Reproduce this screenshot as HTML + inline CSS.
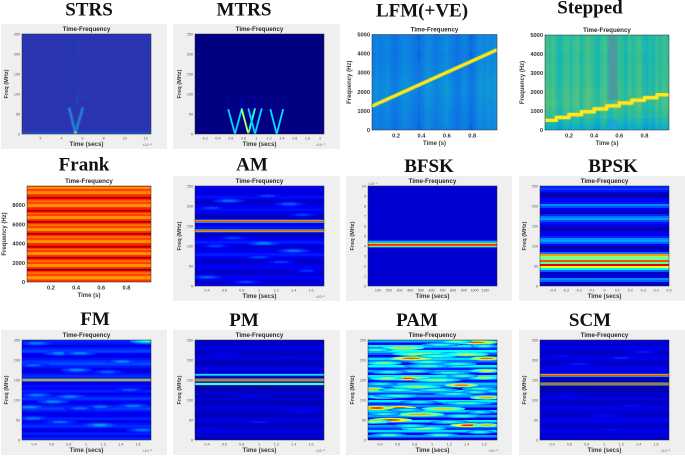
<!DOCTYPE html>
<html lang="en">
<head>
<meta charset="utf-8">
<title>Radar signal time-frequency images</title>
<style>
html,body{margin:0;padding:0;background:#fff;}
#chart{display:block;width:685px;height:456px;filter:blur(0.35px);}
text{font-family:"Liberation Sans",sans-serif;}
.big{font-family:"Liberation Serif",serif;font-weight:bold;font-size:19px;fill:#111;text-anchor:middle;}
</style>
</head>
<body>
<svg id="chart" xmlns="http://www.w3.org/2000/svg" width="685" height="456" viewBox="0 0 685 456">
<defs>
<filter id="b03" x="-5%" y="-5%" width="110%" height="110%"><feGaussianBlur stdDeviation="0.35"/></filter>
<filter id="b06" x="-5%" y="-5%" width="110%" height="110%"><feGaussianBlur stdDeviation="0.6"/></filter>
</defs>
</svg>
<script>
// ---------- shared ticks ----------
const mhzTicks = [0, 50, 100, 150, 200, 250];
const hzTicks = [0, 1000, 2000, 3000, 4000, 5000];
const frankYTicks = [0, 2000, 4000, 6000, 8000];
const unitTicks = [0.2, 0.4, 0.6, 0.8];
const amTimeTicks = [0.4, 0.6, 0.8, 1, 1.2, 1.4, 1.6];

// ---------- STRS ----------
const strsTimeTicks = [2, 4, 6, 8, 10, 12];
const strsRows = [6,7,5,7,6,7,5,6,7,6,7,5,7,6,5,7,6,7,6,5,7,7,6,5,7,6,7,5,6,7,7,6,7,5,6,7,6,7,6,9];
const strsStreakT = [5.5,5.6,5.4,5.7,5.5,5.6,5.4,5.6,5.5];
const strsStreakF = [235,215,195,175,155,135,115,95,80];
const strsStreakL = [10,11,9,10,9,10,9,11,13];
const strsVTimes = [4.72, 5.32, 6.02];
const strsVFreqs = [66, 2, 66];
const strsVLevels = [32];

// ---------- MTRS ----------
const mtrsTimeTicks = [0.2,0.4,0.6,0.8,1,1.2,1.4,1.6,1.8,2];
const mtrsRows = [0];
const mtrsVCenters = [0.666, 0.875, 0.98, 1.32];
const mtrsVHalfWidths = [0.105, 0.105, 0.105, 0.1];
const mtrsVTops = [62, 64, 64, 62];
const mtrsVLevels = [28, 36, 28, 29];

// ---------- LFM ----------
const lfmRows = [26,27,27,26,27,28,29,30,31,31,30,29,28,27,27,26];
const lfmCols = [0,2,-1,1,3,-2,-5,-3,1,3,2,-1,-4,-8,-3,2,4,1,-2,0,3,5,2,-2,-6,-3,2,-1,-8,-4,3,4,2,5,3,6];
const lfmTimes = [0.01, 0.995];
const lfmFreqs = [1250, 4200];

// ---------- Stepped ----------
const steppedRows = [55,56,56,55,55,56,56,56,57,58,58,59,57,55,50,44];
const steppedCols = [4,2,5,-3,-6,2,4,-2,3,5,-4,2,6,3,-2,-6,3,5,-5,-3,4,2,0,-6,3,-2,2,5,-4,-7,-2,-5,3,-3,4,2];
const steppedStarts = [0.01,0.1,0.2,0.3,0.4,0.5,0.6,0.7,0.8,0.9];
const steppedFreqs = [500,660,810,960,1110,1270,1420,1570,1700,1860];
const steppedBandTimes = [0.515, 0.585];
const steppedBandFreqs = [1600, 5000];

// ---------- Frank ----------
const frankTimeTicks = [0.2, 0.4, 0.6, 0.8];
const frankRows = [
 50,58,58,46,48,56,58,58,47,44,42,24,
 30,44,50,54,47,48,58,60,58,46,42,40,
 25,32,44,54,48,47,58,60,58,46,43,24,
 30,44,52,54,48,47,58,60,58,46,42,23,
 30,44,52,54,47,48,58,60,58,45,42,40,
 21,32,46,54,47,46,58,60,58,45,42,22,
 32,44,52,54,48,47,58,60,58,45,42,14,
 30,44,52,54,48,47,58,60,60,52,46,44];

// ---------- AM ----------
const amRows = [12,10,7,11,14,9,6,9,12,14,10,8,5,9,12,10,14,10,7,6,9,12,15,11,7,10,13,15,11,8,6,10,13,9,6,9,13,9,7,11];
const amStreakT = [0.65,1.35,0.45,1.1,1.5,1.05,1.4,0.7,0.5,1.25,1.0,0.4,1.55,0.85];
const amStreakF = [213,205,195,225,178,107,88,120,100,60,72,22,38,10];
const amStreakL = [24,23,20,20,19,27,25,20,20,19,20,23,18,20];
const amLineF = [162, 138];
const amLineL = [80, 78];

// ---------- BFSK ----------
const bfskTimeTicks = [100,200,300,400,500,600,700,800,900,1000,1100];
const bfskYTicks = [0,1,2,3,4,5,6,7,8,9,10];
const bfskRows = [8,7,9,8,7,9,8,7,8,9,7,8,9,8,7,9,8,7,8,9,8,7,9,8,7,8,9,7,8,9,8,7,9,8,7,8,9,7,8,9];
const bfskLineF = [4.45, 4.12];
const bfskLineL = [28, 78];

// ---------- BPSK ----------
const bpskTimeTicks = [-0.4,-0.3,-0.2,-0.1,0,0.1,0.2,0.3,0.4,0.5];
const bpskRows = [16,18,14,7,5,6,12,13,14,26,20,12,8,6,16,24,28,20,14,10,8,4,8,12,10,16,26,28,22,12,5,6,10,24,72,50,48,80,46,90,62,36,22,8,6,10,26,22,8,5];

// ---------- FM ----------
const fmRows = [16,14,10,15,19,13,9,14,17,20,15,11,8,14,17,14,12,10,14,12,16,11,14,18,13,9,15,19,14,10,12,16,10,14,17,12,9,15,11,16];
const fmStreakT = [0.43,0.7,0.93,1.42,0.39,0.89,0.43,0.81,0.35,0.62,1.16,1.54,0.93,1.16,0.39,1.65,1.7,1.25,0.7,1.5];
const fmStreakF = [242,217,217,196,187,175,112,108,82,96,83,85,79,37,54,25,247,170,45,125];
const fmStreakL = [26,28,27,27,24,27,26,27,28,27,25,26,24,30,25,25,42,23,24,22];
const fmLineF = [150];
const fmLineL = [74];

// ---------- PM ----------
const pmRows = [7,6,8,10,7,5,8,10,6,5,8,11,7,5,4,5,5,6,5,4,6,8,5,9,6,5,8,10,6,7,5,9,10,6,5,8,10,7,9,5];
const pmStreakT = [1.0,1.3,0.6,1.5,0.45,0.9];
const pmStreakF = [45,205,215,70,30,110];
const pmStreakL = [15,13,13,13,13,12];
const pmLineF = [163, 150, 140];
const pmLineL = [36, 84, 50];

// ---------- PAM ----------
const pamRows = [30,13,36,16,38,22,12,34,24,13,38,16,30,12,36,22,14,32,26,12,36,18,28,12,36,16,26,10,34,16,28,10,36,14,28,18,34,12,28,10];
const pamStreakT = [1.49,1.28,0.67,0.86,0.76,0.44,1.05,1.4,1.63,1.63,0.69,0.48,1.05,1.6,1.34,0.82,0.32,0.44,1.63,0.36,0.63,1.13,0.86,0.52,0.32,1.43,1.63,0.9,0.5,1.1,1.4,0.6,0.95,1.35,1.2,0.8,0.4,1.55,0.35,1.1,1.6,0.95,1.3,0.5,1.35,0.6,1.05,1.5,0.85,1.25,0.7,1.55,0.45,1.2,0.75,1.55];
const pamStreakF = [244,246,230,215,204,192,210,214,204,173,154,154,150,156,137,133,127,108,106,80,80,78,64,50,46,37,37,29,12,12,92,110,185,60,168,172,140,128,225,238,235,195,190,170,160,125,125,120,95,115,75,70,65,45,35,20];
const pamStreakL = [80,52,68,60,80,54,50,62,78,62,82,58,54,58,78,58,70,56,72,90,88,68,72,88,60,88,70,56,46,46,46,46,46,46,44,42,42,44,48,44,46,48,46,44,46,48,46,44,42,44,42,42,44,44,44,44];
const pamStreakSpan = [0.17,0.12,0.15,0.2,0.15,0.13,0.15,0.16,0.12,0.12,0.18,0.12,0.18,0.12,0.12,0.18,0.1,0.13,0.12,0.12,0.12,0.16,0.18,0.16,0.13,0.14,0.1,0.16,0.13,0.13,0.18,0.18,0.18,0.15,0.15,0.15,0.13,0.13,0.12,0.14,0.1,0.14,0.14,0.14,0.12,0.14,0.16,0.1,0.14,0.14,0.14,0.1,0.12,0.14,0.14,0.1];

// ---------- SCM ----------
const scmRows = [8,7,9,11,7,6,9,11,7,6,9,12,9,7,5,7,5,6,5,4,6,8,6,10,7,6,9,11,7,8,6,10,12,7,6,9,11,8,10,6];
const scmStreakT = [0.7,1.2,1.45,0.5,1.0,1.3,0.55,1.1];
const scmStreakF = [190,205,220,210,60,85,110,25];
const scmStreakL = [16,17,15,14,14,14,13,14];
const scmLineF = [162, 140];
const scmLineL = [80, 86];

// ---------- panel layout ----------
const axisSmall = {tick:3.7, label:6.2, xl:'Time (secs)', yl:'Freq (MHz)'};
const panels = [
 {id:'strs',title:'STRS',tx:89,ty:15.5,box:[1,24,167,149],plot:[22,34,151,134],xd:[0.25,12.5],yd:[0,250],xt:strsTimeTicks,yt:mhzTicks,exp:'×10⁻⁵',cmap:'strs',rows:strsRows,blur:'b06',
  streak:{t:strsStreakT,f:strsStreakF,l:strsStreakL,dt:0.1,ry:2.5}},
 {id:'mtrs',title:'MTRS',tx:244,ty:15.5,box:[173,24,340,149],plot:[195,34,324,134],xd:[0.04,2.06],yd:[0,250],xt:mtrsTimeTicks,yt:mhzTicks,exp:'×10⁻³',cmap:'jet',rows:mtrsRows,blur:'b06'},
 {id:'lfm',title:'LFM(+VE)',tx:422,ty:16.5,plot:[372,34.5,497,130],xd:[0.01,0.995],yd:[0,5000],xt:unitTicks,yt:hzTicks,big:true,cmap:'parula',rows:lfmRows,cols:lfmCols,blur:'b06'},
 {id:'stepped',title:'Stepped',tx:590,ty:13.5,plot:[545,35,669,130],xd:[0.01,0.995],yd:[0,5000],xt:unitTicks,yt:hzTicks,big:true,cmap:'parula',rows:steppedRows,cols:steppedCols,blur:'b06'},
 {id:'frank',title:'Frank',tx:84,ty:170.5,plot:[27,186,151,282],xd:[0.01,0.995],yd:[0,10000],xt:frankTimeTicks,yt:frankYTicks,big:true,cmap:'hot',rows:frankRows},
 {id:'am',title:'AM',tx:252,ty:170.5,box:[173,176,340,301],plot:[195,186,324,286],xd:[0.26,1.75],yd:[0,250],xt:amTimeTicks,yt:mhzTicks,exp:'×10⁻⁸',cmap:'jet',rows:amRows,blur:'b06',
  streak:{t:amStreakT,f:amStreakF,l:amStreakL,dt:0.12,ry:1.1},line:{f:amLineF,l:amLineL}},
 {id:'bfsk',title:'BFSK',tx:429,ty:172,box:[346,176,512,301],plot:[368,186,497,286],xd:[7,1209],yd:[0,10],xt:bfskTimeTicks,yt:bfskYTicks,expTop:'×10⁻⁴',cmap:'jet',rows:bfskRows,blur:'b06',line:{f:bfskLineF,l:bfskLineL,w:[1,1.8]}},
 {id:'bpsk',title:'BPSK',tx:613,ty:172,box:[519,176,685,301],plot:[540,186,669,286],xd:[-0.5,0.5],yd:[0,250],xt:bpskTimeTicks,yt:mhzTicks,cmap:'jet',rows:bpskRows},
 {id:'fm',title:'FM',tx:95,ty:325,box:[1,330,167,455],plot:[22,340,151,440],xd:[0.26,1.75],yd:[0,250],xt:amTimeTicks,yt:mhzTicks,exp:'×10⁻⁸',cmap:'jet',rows:fmRows,blur:'b06',
  streak:{t:fmStreakT,f:fmStreakF,l:fmStreakL,dt:0.12,ry:1.2},line:{f:fmLineF,l:fmLineL}},
 {id:'pm',title:'PM',tx:244,ty:326,box:[173,330,340,455],plot:[195,340,324,440],xd:[0.26,1.75],yd:[0,250],xt:amTimeTicks,yt:mhzTicks,exp:'×10⁻⁸',cmap:'jet',rows:pmRows,blur:'b06',
  streak:{t:pmStreakT,f:pmStreakF,l:pmStreakL,dt:0.14,ry:1.1},line:{f:pmLineF,l:pmLineL}},
 {id:'pam',title:'PAM',tx:417,ty:326,box:[346,330,512,455],plot:[368,340,497,440],xd:[0.26,1.75],yd:[0,250],xt:amTimeTicks,yt:mhzTicks,exp:'×10⁻⁸',cmap:'jet',rows:pamRows,blur:'b03',
  streak:{t:pamStreakT,f:pamStreakF,l:pamStreakL,span:pamStreakSpan,ry:1.05}},
 {id:'scm',title:'SCM',tx:590,ty:326,box:[519,330,685,455],plot:[540,340,669,440],xd:[0.26,1.75],yd:[0,250],xt:amTimeTicks,yt:mhzTicks,exp:'×10⁻⁸',cmap:'jet',rows:scmRows,blur:'b06',
  streak:{t:scmStreakT,f:scmStreakF,l:scmStreakL,dt:0.14,ry:1.1},line:{f:scmLineF,l:scmLineL}}
];

// ---------- colour maps ----------
const parulaStops = [[53,42,135],[3,99,225],[15,130,225],[8,172,205],[45,190,150],[130,200,100],[225,185,82],[249,251,14]];
const strsStops = [[44,40,165],[34,80,205],[40,170,215],[90,225,130],[230,230,60],[230,60,30]];
function ramp(stops,v){
  v=Math.max(0,Math.min(1,v))*(stops.length-1);
  const i=Math.min(stops.length-2,Math.floor(v)),k=v-i;
  return 'rgb('+[0,1,2].map(c=>Math.round(stops[i][c]+(stops[i+1][c]-stops[i][c])*k)).join(',')+')';
}
function clamp(v){return Math.max(0,Math.min(1,v));}
function jet(v){
  const r=clamp(1.5-Math.abs(4*v-3)),g=clamp(1.5-Math.abs(4*v-2)),b=clamp(1.5-Math.abs(4*v-1));
  return 'rgb('+Math.round(r*255)+','+Math.round(g*255)+','+Math.round(b*255)+')';
}
function hot(v){
  const r=clamp(v/0.375),g=clamp((v-0.375)/0.375),b=clamp((v-0.75)/0.25);
  return 'rgb('+Math.round(r*255)+','+Math.round(g*255)+','+Math.round(b*255)+')';
}
function colour(p,level){
  const v=level/100;
  if(p.cmap==='jet')return jet(v);
  if(p.cmap==='hot')return hot(v);
  if(p.cmap==='parula')return ramp(parulaStops,v);
  return ramp(strsStops,v);
}

// ---------- drawing helpers ----------
const NS='http://www.w3.org/2000/svg';
const root=document.getElementById('chart');
function make(tag,parent,attrs){
  const e=document.createElementNS(NS,tag);
  for(const k in attrs)e.setAttribute(k,attrs[k]);
  parent.appendChild(e);
  return e;
}
function drawPolyline(p,parent,x,y,ts,fs,stroke,width,opacity){
  const pts=ts.map((t,i)=>x(t).toFixed(2)+','+y(fs[i]).toFixed(2)).join(' ');
  const e=make('polyline',parent,{points:pts,fill:'none',stroke:stroke,'stroke-width':width,'stroke-opacity':opacity,'stroke-linejoin':'round'});
  
  
  return e;
}

panels.forEach(p=>{
  const [px0,py0,px1,py1]=p.plot;
  const x=t=>px0+(t-p.xd[0])/(p.xd[1]-p.xd[0])*(px1-px0);
  const y=f=>py1-(f-p.yd[0])/(p.yd[1]-p.yd[0])*(py1-py0);
  const g=make('g',root,{});
  
  

  const heading=make('text',g,{x:p.tx,y:p.ty,class:'big'});
  
  
  heading.textContent=p.title;

  if(p.box){
    const bg=make('rect',g,{x:p.box[0],y:p.box[1],width:p.box[2]-p.box[0],height:p.box[3]-p.box[1],fill:'#efefef'});
    
    
  }

  const clipId='clip-'+p.id;
  const cp=make('clipPath',g,{id:clipId});
  make('rect',cp,{x:px0,y:py0,width:px1-px0,height:py1-py0});
  const clipped=make('g',g,{'clip-path':'url(#'+clipId+')'});
  
  
  const heat=make('g',clipped,p.blur?{filter:'url(#'+p.blur+')'}:{});

  // heat map cells
  const rows=p.rows, cols=p.cols||[0];
  const rh=(py1-py0)/rows.length, cw=(px1-px0)/cols.length;
  rows.forEach((rv,r)=>{
    cols.forEach((cv,c)=>{
      const top=py0+r*rh, left=px0+c*cw;
      const cell=make('rect',heat,{
        x:c===0?left-5:left,
        y:r===0?top-5:top,
        width:cw+(c===0?5:0)+(c===cols.length-1?5:0)+0.3,
        height:rh+(r===0?5:0)+(r===rows.length-1?5:0)+0.3,
        fill:colour(p,rv+cv)});
      
      
    });
  });

  // streak blobs
  if(p.streak){
    const s=p.streak;
    s.t.forEach((t,i)=>{
      const span=s.span?s.span[i]:s.dt;
      const rx=Math.abs(x(t+span)-x(t)), ry=s.ry;
      [[1.6,2,0.5],[1.2,1.35,0.72],[0.7,0.7,1]].forEach(layer=>{
        const blob=make('ellipse',heat,{cx:x(t),cy:y(s.f[i]),rx:rx*layer[0],ry:ry*layer[1],fill:colour(p,Math.max(s.l[i]*layer[2],p.cmap==='strs'?s.l[i]*0.9:s.l[i]*0.6))});
        
        
      });
    });
  }

  // horizontal carrier lines
  if(p.line){
    const peaks=make('g',clipped,{});
    p.line.f.forEach((f,i)=>{
      const lev=p.line.l[i];
      const w=p.line.w?p.line.w[i]:1;
      [[3*w,lev*0.4],[2*w,lev*0.74],[1.1*w,lev*1.08]].forEach(layer=>{
        const r=make('rect',peaks,{x:px0-3,y:y(f)-layer[0]/2,width:px1-px0+6,height:layer[0],fill:colour(p,layer[1])});
        
        
      });
    });
  }

  // panel specific traces
  if(p.id==='strs'){
    const soft=make('g',clipped,{filter:'url(#b06)'});
    drawPolyline(p,soft,x,y,[0.2,12.6],[2,2],colour(p,24),1.3,1);
    drawPolyline(p,soft,x,y,strsVTimes,strsVFreqs,colour(p,strsVLevels[0]),2.8,0.9);
    drawPolyline(p,soft,x,y,[strsVTimes[1],strsVTimes[1]],[0,6],colour(p,75),2,1);
  }
  if(p.id==='mtrs'){
    const soft=make('g',clipped,{filter:'url(#b03)'});
    mtrsVCenters.forEach((c,i)=>{
      const ts=[c-mtrsVHalfWidths[i],c,c+mtrsVHalfWidths[i]];
      drawPolyline(p,soft,x,y,[c-mtrsVHalfWidths[i]*0.98,c-mtrsVHalfWidths[i]*0.98],[mtrsVTops[i],mtrsVTops[i]+30],colour(p,8),1.2,0.6);
      drawPolyline(p,soft,x,y,[c+mtrsVHalfWidths[i]*0.98,c+mtrsVHalfWidths[i]*0.98],[mtrsVTops[i],mtrsVTops[i]+30],colour(p,8),1.2,0.6);
      drawPolyline(p,soft,x,y,ts,[mtrsVTops[i],0,mtrsVTops[i]],colour(p,mtrsVLevels[i]),2,1);
      drawPolyline(p,soft,x,y,ts,[mtrsVTops[i],0,mtrsVTops[i]],colour(p,mtrsVLevels[i]+8),0.9,1);
    });
    drawPolyline(p,soft,x,y,[mtrsVCenters[1]-0.02,mtrsVCenters[1]+0.02],[3,3],colour(p,90),1.6,1);
    drawPolyline(p,soft,x,y,[mtrsVCenters[0]+0.105,mtrsVCenters[1]],[60,2],colour(p,62),1.2,1);
  }
  if(p.id==='lfm'){
    const soft=make('g',clipped,{filter:'url(#b03)'});
    drawPolyline(p,soft,x,y,lfmTimes,lfmFreqs,colour(p,66),4.6,0.6);
    drawPolyline(p,soft,x,y,lfmTimes,lfmFreqs,'#ffe31a',3,1);
  }
  if(p.id==='stepped'){
    const band=make('rect',heat,{x:x(steppedBandTimes[0]),y:y(steppedBandFreqs[1]),width:x(steppedBandTimes[1])-x(steppedBandTimes[0]),height:y(steppedBandFreqs[0])-y(steppedBandFreqs[1]),fill:'#4b9a9e'});
    
    
    const base=make('rect',heat,{x:x(steppedBandTimes[0]),y:y(500),width:x(steppedBandTimes[1])-x(steppedBandTimes[0]),height:y(0)-y(500)+4,fill:'#1aa6dc'});
    
    
    const soft=make('g',clipped,{filter:'url(#b03)'});
    const ts=[],fs=[];
    steppedStarts.forEach((s,i)=>{
      const end=i+1<steppedStarts.length?steppedStarts[i+1]:1.0;
      ts.push(s,end); fs.push(steppedFreqs[i],steppedFreqs[i]);
    });
    drawPolyline(p,soft,x,y,ts,fs,colour(p,76),5,0.7);
    drawPolyline(p,soft,x,y,ts,fs,'#ffe71c',3.2,1);
  }

  // axes box
  const frame=make('rect',g,{x:px0,y:py0,width:px1-px0,height:py1-py0,fill:'none',stroke:'#26262e','stroke-width':0.5});
  
  

  // plot title
  const title=make('text',g,{x:(px0+px1)/2,y:py0-3,'font-size':6.2,'font-weight':'bold',fill:'#2a2a2a','text-anchor':'middle'});
  
  
  title.textContent='Time-Frequency';

  // ticks
  const tickSize=p.big?5.7:axisSmall.tick;
  const tickFill=p.big?'#333':'#555';
  const tickWeight=p.big?'bold':'normal';
  p.xt.forEach(t=>{
    const tk=make('line',g,{x1:x(t),x2:x(t),y1:py1,y2:py1-1.3,stroke:'#333','stroke-width':0.35});
    
    
    const lb=make('text',g,{x:x(t),y:py1+(p.big?7.5:5.6),'font-size':tickSize,'font-weight':tickWeight,fill:tickFill,'text-anchor':'middle'});
    
    
    lb.textContent=t;
  });
  p.yt.forEach(v=>{
    const tk=make('line',g,{x1:px0,x2:px0+1.3,y1:y(v),y2:y(v),stroke:'#333','stroke-width':0.35});
    
    
    const lb=make('text',g,{x:px0-2,y:y(v)+(p.big?2:1.3),'font-size':tickSize,'font-weight':tickWeight,fill:tickFill,'text-anchor':'end'});
    
    
    lb.textContent=v;
  });

  // axis titles
  const xl=make('text',g,{x:(px0+px1)/2,y:p.big?py1+15:py1+12,'font-size':p.big?6:6.2,'font-weight':'bold',fill:'#3a3a3a','text-anchor':'middle'});
  
  
  xl.textContent=p.big?'Time (s)':axisSmall.xl;
  const ylx=p.big?px0-21:px0-14;
  const yly=(py0+py1)/2;
  const yl=make('text',g,{x:ylx,y:yly,'font-size':p.big?6:5.6,'font-weight':'bold',fill:'#3a3a3a','text-anchor':'middle',transform:'rotate(-90 '+ylx+' '+yly+')'});
  
  
  yl.textContent=p.big?'Frequency (Hz)':axisSmall.yl;

  if(p.exp){
    const ex=make('text',g,{x:px1+1,y:py1+12,'font-size':3.6,fill:'#666','text-anchor':'end'});
    
    
    ex.textContent=p.exp;
  }
  if(p.expTop){
    const ex=make('text',g,{x:px0,y:py0-1,'font-size':3.6,fill:'#666'});
    
    
    ex.textContent=p.expTop;
  }
});
</script>
</body>
</html>
